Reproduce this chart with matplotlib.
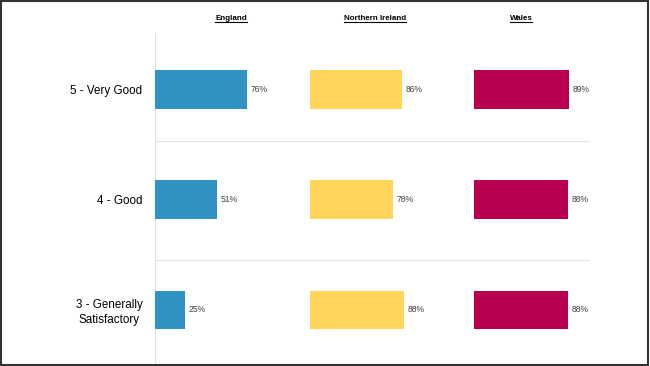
import matplotlib
matplotlib.use("Agg")
import matplotlib.pyplot as plt
from matplotlib.patches import Rectangle
from matplotlib.lines import Line2D

categories = ["5 - Very Good", "4 - Good", "3 - Generally\nSatisfactory"]
regions = ["England", "Northern Ireland", "Wales"]
england = [76, 51, 25]
northern_ireland = [86, 78, 88]
wales = [89, 88, 88]
series = [england, northern_ireland, wales]
colors = ["#3192C4", "#FFD55A", "#B9004F"]

plt.rcParams["font.family"] = ["Liberation Sans", "DejaVu Sans"]

W, H = 650, 366
fig = plt.figure(figsize=(W / 100, H / 100), dpi=100)

def px_box(left, top, width, height):
    return [left / W, 1 - (top + height) / H, width / W, height / H]

ylim = (2.49, -0.51)
ax_top, ax_h = 33, 331

# background axes: gridlines, left rule and category labels
bg = fig.add_axes(px_box(155, ax_top, 435, ax_h))
bg.set_xlim(0, 1)
bg.set_ylim(*ylim)
for y in [0.47, 1.55]:
    bg.axhline(y, color="#e4e4e4", lw=0.8)
bg.axvline(0, color="#e0e0e0", lw=0.8)
bg.set_yticks(range(len(categories)))
bg.set_yticklabels(categories, fontsize=8.4, color="black", linespacing=1.25,
                   multialignment="center")
bg.tick_params(axis="y", length=0, pad=9)
bg.set_xticks([])
for s in bg.spines.values():
    s.set_visible(False)

# one axes per region: (left px, width px, px per percent)
panels = [(155, 150, 1.21), (310, 150, 1.07), (474, 116, 1.07)]
title_x = [231, 375, 521]

titles = []
for (left, width, scale), vals, col, name, tx in zip(panels, series, colors, regions, title_x):
    ax = fig.add_axes(px_box(left, ax_top, width, ax_h))
    ax.patch.set_alpha(0)
    ax.set_xlim(0, width / scale)
    ax.set_ylim(*ylim)
    ax.barh(range(len(vals)), vals, height=0.35, color=col)
    for i, v in enumerate(vals):
        ax.text(v + 3, i, f"{v}%", va="center", ha="left", fontsize=6.2, color="#404040")
    ax.axis("off")
    t = fig.text(tx / W, 1 - 18 / H, name, ha="center", va="center",
                 fontsize=5.8, fontweight="bold", color="black")
    titles.append(t)

# underline the region titles
fig.canvas.draw()
r = fig.canvas.get_renderer()
for t in titles:
    bb = t.get_window_extent(r)
    y = bb.y0 - 0.3
    fig.add_artist(Line2D([bb.x0 / W, bb.x1 / W], [y / H, y / H],
                          transform=fig.transFigure, color="black", lw=0.8))

# outer frame
fig.add_artist(Rectangle((0.001, 0.004), 0.996, 0.993, transform=fig.transFigure,
                         fill=False, edgecolor="#333333", lw=1.5))

fig.savefig("out.png", dpi=100, facecolor="white")
